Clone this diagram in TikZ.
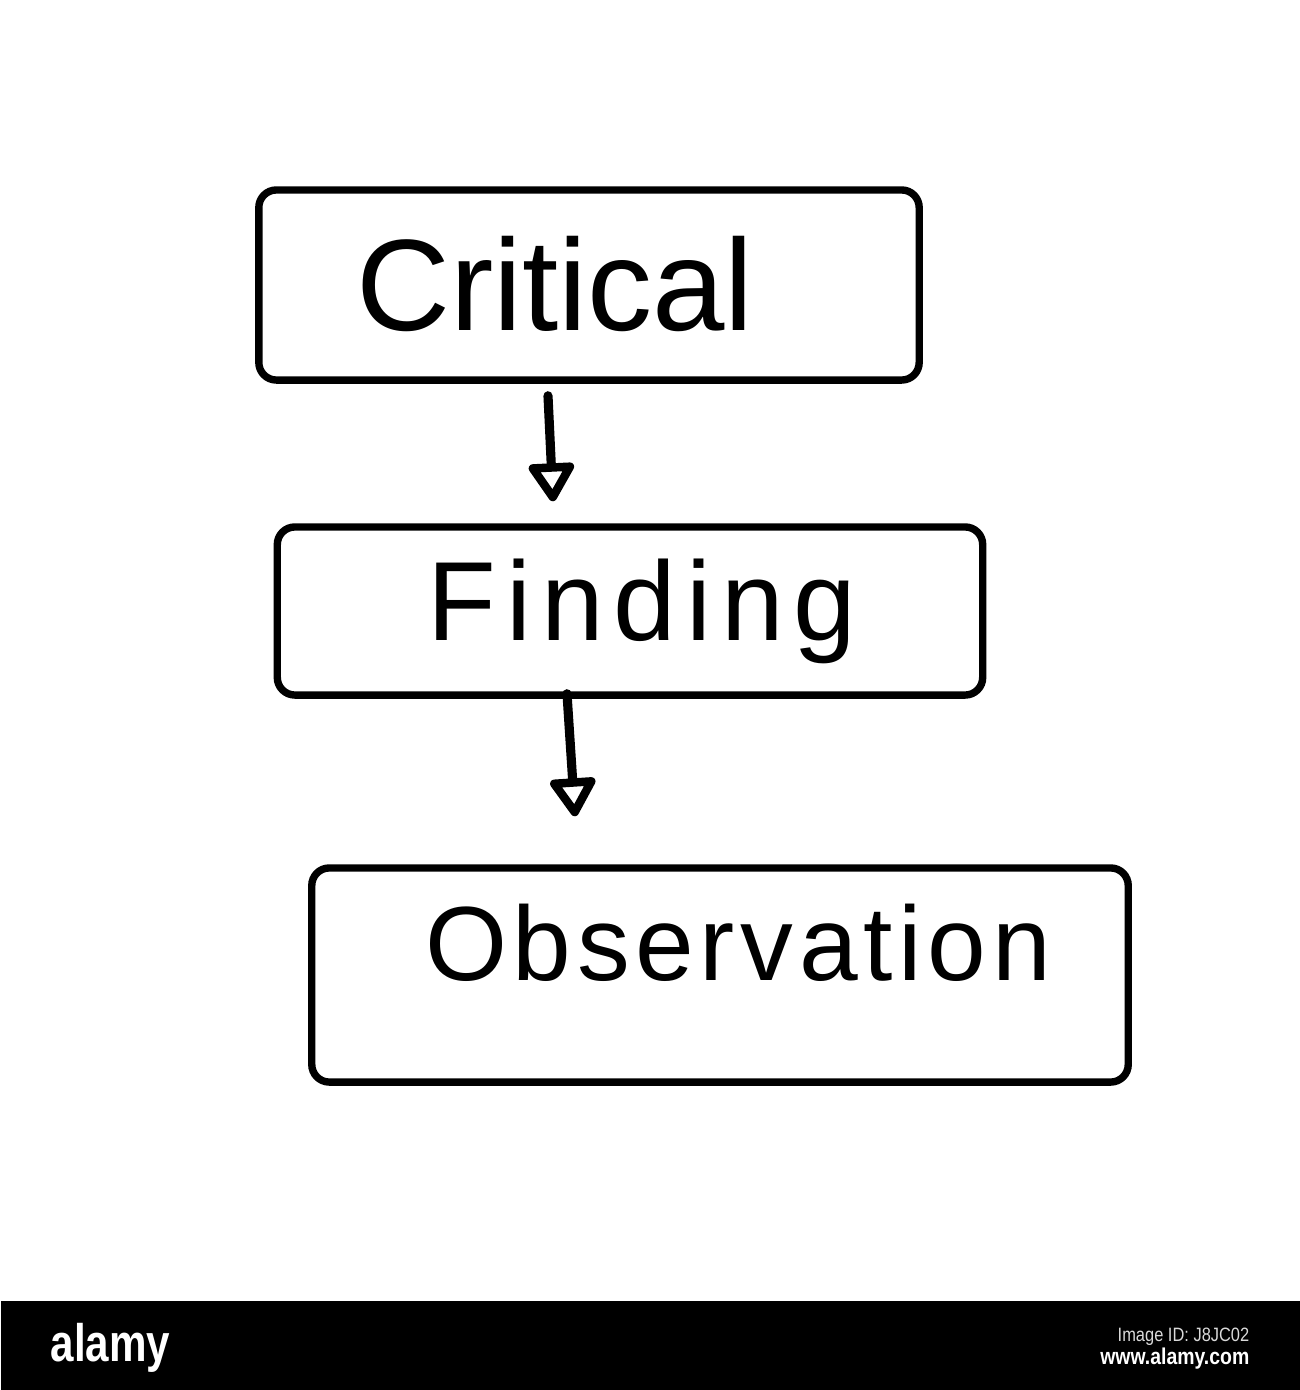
\documentclass[tikz,border=0pt]{standalone}
\usepackage{fontspec}
\setmainfont{Liberation Sans}
\usetikzlibrary{arrows.meta, positioning, calc}

\begin{document}
\begin{tikzpicture}[x=0.01cm, y=-0.01cm,
    box/.style={draw, line width=2.1pt, rounded corners=5pt, inner sep=0pt},
    word/.style={anchor=base, inner sep=0pt},
    flow/.style={line width=2.6pt, line cap=round,
        -{Triangle[open, length=0.42cm, width=0.5cm, line width=2.4pt, round]}}]
    \useasboundingbox (0,0) rectangle (1300,1390);

    \node (critical) [box, minimum width=6.6cm, minimum height=1.9cm] at (589,285) {};
    \node (finding) [box, minimum width=7.05cm, minimum height=1.68cm] at (630,611) {};
    \node (observation) [box, minimum width=8.16cm, minimum height=2.14cm] at (720,975) {};

    \node (criticalword) [word, font={\fontsize{37}{40}\selectfont}] at (555,330) {Critical};
    \node (findingword) [word, font={\fontsize{32}{36}\selectfont\addfontfeature{LetterSpace=8.8}}] at (642,640) {Finding};
    \node (observationword) [word, font={\fontsize{30}{34}\selectfont\addfontfeature{LetterSpace=5.4}}] at (738,980) {Observation};

    \draw[flow] ($(critical.south)+(-41,12)$) -- ($(finding.north)+(-77,-22)$);
    \draw[flow] ($(finding.south)+(-63,-5)$) -- ($(observation.north)+(-145,-48)$);

    % stock footer
    \node (bar) [fill=black, minimum width=13cm, minimum height=0.9cm, inner sep=0pt, anchor=north west] at (0,1300) {};
    \node (brand) [anchor=base west, inner sep=0pt, text=white, font={\fontsize{15}{15}\selectfont\bfseries}] at (50,1361) {\scalebox{0.8}[1]{alamy}};
    \node (imageid) [anchor=base east, inner sep=0pt, text=white!85!black, font={\fontsize{5.5}{6}\selectfont}] at (1250,1341) {\scalebox{0.85}[1]{Image ID: J8JC02}};
    \node (site) [anchor=base east, inner sep=0pt, text=white, font={\fontsize{6.5}{7}\selectfont\bfseries}] at (1250,1364) {\scalebox{0.85}[1]{www.alamy.com}};
\end{tikzpicture}
\end{document}
